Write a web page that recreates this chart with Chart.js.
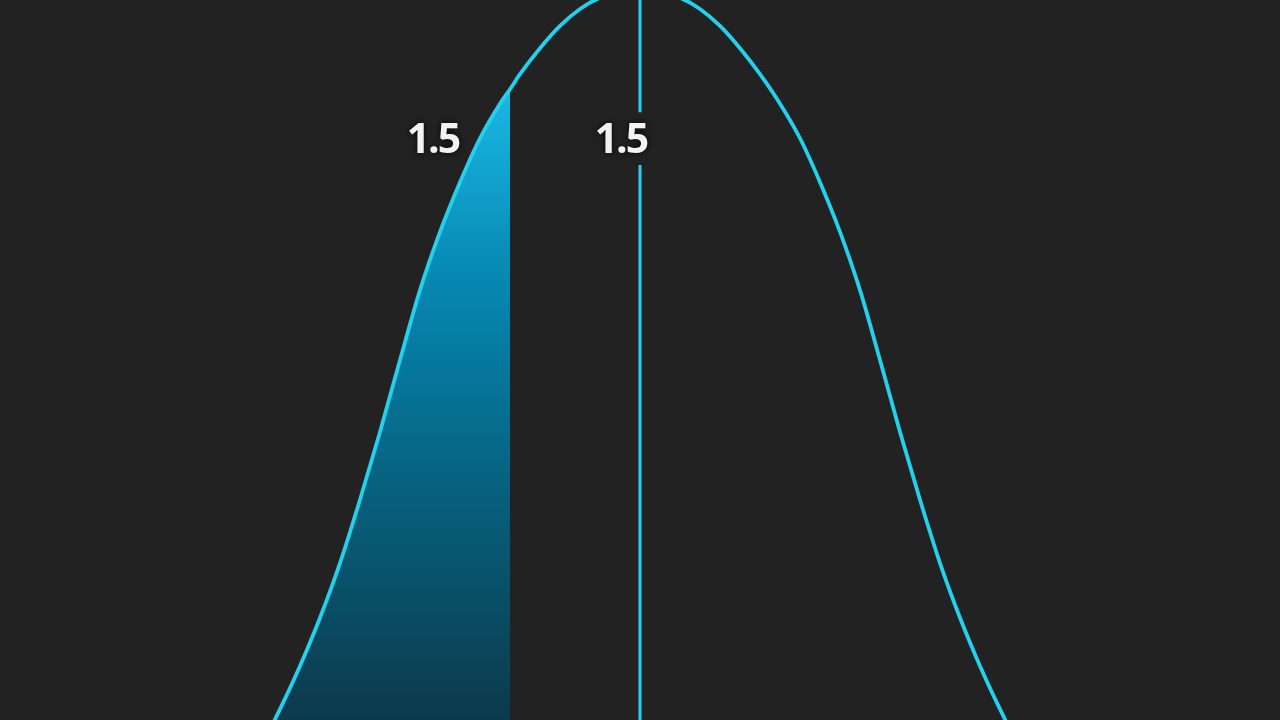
<!DOCTYPE html>
<html>
<head>
<meta charset="utf-8">
<script src="https://cdn.jsdelivr.net/npm/chart.js@4.4.1/dist/chart.umd.min.js"></script>
<style>
  html, body { margin: 0; padding: 0; background: #222222; overflow: hidden; }
  canvas { display: block; }
</style>
</head>
<body>
<canvas id="chart" width="1280" height="720"></canvas>
<script>
// bell curve: x in standard deviations, y in % of frame height
const curveX = [-2.5, -2.375, -2.25, -2.125, -2.0, -1.875, -1.75, -1.625, -1.5, -1.375, -1.25, -1.125, -1.0,
  -0.875, -0.8125, -0.75, -0.625, -0.5, -0.375, -0.25, 0,
  0.25, 0.375, 0.5, 0.625, 0.75, 0.875, 1.0, 1.125, 1.25, 1.375, 1.5, 1.625, 1.75, 1.875, 2.0, 2.125, 2.25, 2.375, 2.5];
const curveY = [-9.3, -4.0, 1.5, 7.5, 14.2, 21.8, 30.6, 40.0, 50.0, 59.7, 67.8, 74.7, 80.8,
  85.6, 87.6, 89.7, 93.3, 96.4, 98.75, 100.3, 101.7,
  100.3, 98.75, 96.4, 93.3, 89.7, 85.6, 80.8, 74.7, 67.8, 59.7, 50.0, 40.0, 30.6, 21.8, 14.2, 7.5, 1.5, -4.0, -9.3];

// shaded tail ends here
const shadeEnd = -0.8125;

// centre line, broken around its label
const centreX = 0;
const centreLower = [-2, 77.1];
const centreUpper = [84.4, 105];

const labelText = ['1.5', '1.5'];
const labelX = [-1.294, -0.119];
const labelY = [80.4, 80.4];

const CYAN = 'rgb(36, 208, 236)';

const curve = curveX.map((x, i) => ({ x, y: curveY[i] }));
const shade = curve.filter((p) => p.x <= shadeEnd);

const labelsPlugin = {
  id: 'valueLabels',
  afterDatasetsDraw(chart) {
    const { ctx, scales } = chart;
    ctx.save();
    ctx.font = '700 41px "Open Sans", sans-serif';
    ctx.letterSpacing = '-2px';
    ctx.textAlign = 'center';
    ctx.textBaseline = 'middle';
    ctx.fillStyle = '#f2f2f2';
    ctx.shadowColor = 'rgba(0,0,0,0.9)';
    ctx.shadowBlur = 6;
    labelText.forEach((t, i) => {
      ctx.fillText(t, scales.x.getPixelForValue(labelX[i]), scales.y.getPixelForValue(labelY[i]));
    });
    ctx.restore();
  },
};

new Chart(document.getElementById('chart'), {
  type: 'line',
  data: {
    datasets: [
      {
        data: curve,
        borderColor: CYAN,
        borderWidth: 3.8,
        cubicInterpolationMode: 'monotone',
        pointRadius: 0,
        fill: false,
        order: 0,
      },
      {
        data: shade,
        borderWidth: 0,
        borderColor: 'rgba(0,0,0,0)',
        cubicInterpolationMode: 'monotone',
        pointRadius: 0,
        fill: 'origin',
        order: 2,
        backgroundColor: (context) => {
          const { chart } = context;
          const { chartArea, scales } = chart;
          if (!chartArea) return 'rgba(10,120,160,0.8)';
          const top = scales.y.getPixelForValue(curveY[curveX.indexOf(shadeEnd)]);
          const g = chart.ctx.createLinearGradient(0, top, 0, chartArea.bottom);
          g.addColorStop(0, 'rgb(26, 184, 226)');
          g.addColorStop(0.3, 'rgb(6, 136, 178)');
          g.addColorStop(0.62, 'rgb(7, 98, 128)');
          g.addColorStop(1, 'rgb(12, 58, 76)');
          return g;
        },
      },
      {
        data: centreLower.map((y) => ({ x: centreX, y })),
        borderColor: CYAN,
        borderWidth: 3,
        pointRadius: 0,
        order: 1,
      },
      {
        data: centreUpper.map((y) => ({ x: centreX, y })),
        borderColor: CYAN,
        borderWidth: 3,
        pointRadius: 0,
        order: 1,
      },
    ],
  },
  options: {
    responsive: false,
    animation: false,
    layout: { padding: 0 },
    plugins: {
      legend: { display: false },
      tooltip: { enabled: false },
    },
    scales: {
      x: { type: 'linear', min: -4, max: 4, display: false },
      y: { type: 'linear', min: 0, max: 100, display: false },
    },
  },
  plugins: [labelsPlugin],
});
</script>
</body>
</html>
